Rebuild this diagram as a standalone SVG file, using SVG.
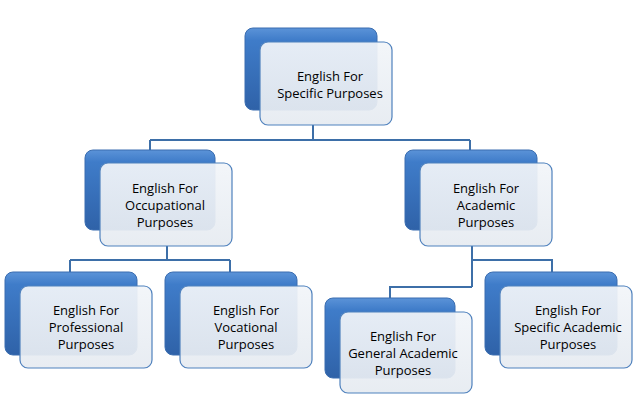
<svg xmlns="http://www.w3.org/2000/svg" width="640" height="402" viewBox="0 0 640 402">
<defs>
<linearGradient id="b" x1="0" y1="0" x2="0" y2="1"><stop offset="0" stop-color="#5b93d8"/><stop offset="0.15" stop-color="#3f7cc9"/><stop offset="1" stop-color="#2f62a8"/></linearGradient>
<linearGradient id="w" x1="0" y1="0" x2="0" y2="1"><stop offset="0" stop-color="#f2f5f9" stop-opacity="0.93"/><stop offset="1" stop-color="#e6ebf1" stop-opacity="0.93"/></linearGradient>
</defs>
<style>
.bk{fill:url(#b);stroke:#3a6db0;stroke-width:1}
.fr{fill:url(#w);stroke:#4f81bd;stroke-width:1.2}
text{font-family:"Open Sans","Liberation Sans",sans-serif;font-size:13px;fill:#000;text-anchor:middle}
.c{fill:none;stroke:#3d6fa8;stroke-width:2}
</style>
<rect width="640" height="402" fill="#fff"/>
<g id="connectors">
<path class="c" d="M313 125V140M150 140H470M150 140V150M470 140V150"/>
<path class="c" d="M167 246V260M70 260H230M70 260V272M230 260V272"/>
<path class="c" d="M472 246V287M472 260H552V272M472 287H390V298"/>
</g>
<g id="n0"><rect class="bk" x="245" y="28" width="132" height="82" rx="8"/><rect class="fr" x="260" y="42" width="132" height="83" rx="8"/><text x="330" y="81">English For</text><text x="330" y="98">Specific Purposes</text></g>
<g id="n1"><rect class="bk" x="85" y="150" width="130" height="80" rx="8"/><rect class="fr" x="100" y="163" width="132" height="83" rx="8"/><text x="165" y="193">English For</text><text x="165" y="210">Occupational</text><text x="165" y="227">Purposes</text></g>
<g id="n2"><rect class="bk" x="405" y="150" width="132" height="80" rx="8"/><rect class="fr" x="420" y="163" width="132" height="83" rx="8"/><text x="486" y="193">English For</text><text x="486" y="210">Academic</text><text x="486" y="227">Purposes</text></g>
<g id="n3"><rect class="bk" x="5" y="272" width="132" height="83" rx="8"/><rect class="fr" x="20" y="286" width="132" height="82" rx="8"/><text x="86" y="315">English For</text><text x="86" y="332">Professional</text><text x="86" y="349">Purposes</text></g>
<g id="n4"><rect class="bk" x="165" y="272" width="132" height="83" rx="8"/><rect class="fr" x="180" y="286" width="132" height="82" rx="8"/><text x="246" y="315">English For</text><text x="246" y="332">Vocational</text><text x="246" y="349">Purposes</text></g>
<g id="n5"><rect class="bk" x="325" y="298" width="130" height="80" rx="8"/><rect class="fr" x="340" y="312" width="132" height="81" rx="8"/><text x="403" y="341">English For</text><text x="403" y="358">General Academic</text><text x="403" y="375">Purposes</text></g>
<g id="n6"><rect class="bk" x="485" y="272" width="132" height="83" rx="8"/><rect class="fr" x="500" y="286" width="132" height="82" rx="8"/><text x="568" y="315">English For</text><text x="568" y="332">Specific Academic</text><text x="568" y="349">Purposes</text></g>
</svg>
